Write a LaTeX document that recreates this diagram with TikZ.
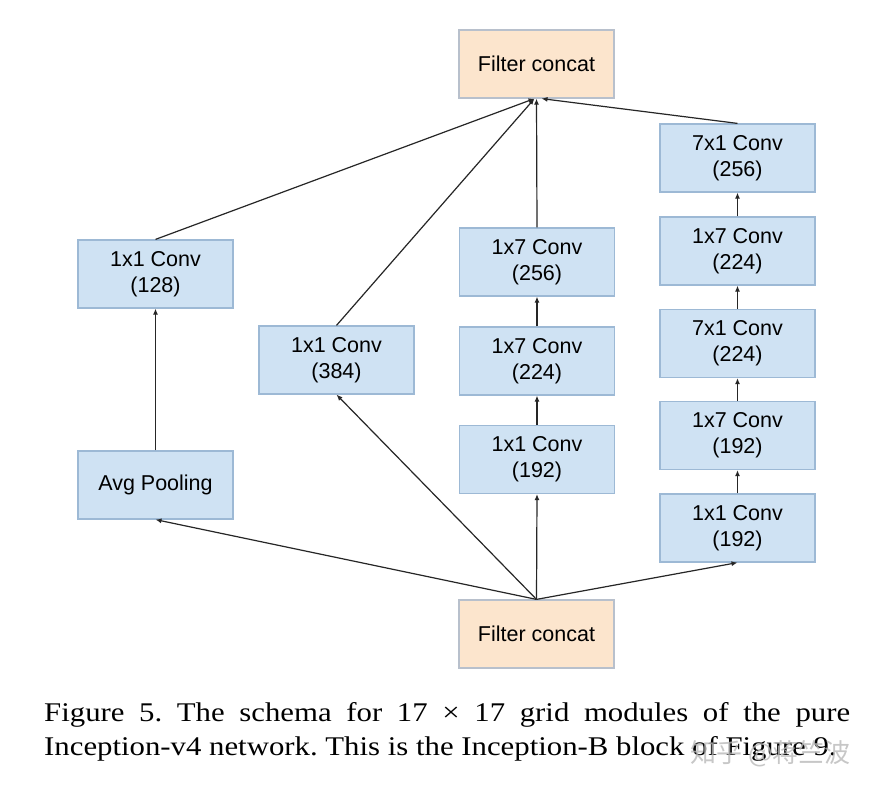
\documentclass[tikz,border=0pt]{standalone}
\usepackage{fontspec}
\setmainfont{Liberation Serif}
\setsansfont{Liberation Sans}
\newfontfamily\capfont[FakeStretch=1.14]{Liberation Serif}
\newfontfamily\cjkfont{Noto Sans CJK SC}
\usetikzlibrary{arrows.meta}
\definecolor{convfill}{HTML}{CFE2F3}
\definecolor{convline}{HTML}{9DB9D5}
\definecolor{catfill}{HTML}{FCE5CD}
\definecolor{catline}{HTML}{B8C0CC}
\tikzset{
  box/.style={draw=convline, line width=1.2pt, fill=convfill, minimum width=155pt, minimum height=68pt,
    inner sep=0pt, align=center, font=\sffamily\fontsize{21.5}{26}\selectfont},
  catbox/.style={box, draw=catline, fill=catfill},
  conn/.style={line width=1.2pt, draw=black!85, -{Latex[length=6pt,width=5pt]}},
  captext/.style={inner sep=0pt, anchor=base west, font=\capfont\frenchspacing\fontsize{27}{34}\selectfont}
}
\begin{document}
\begin{tikzpicture}[x=1pt,y=-1pt]
\useasboundingbox[fill=white] (0,0) rectangle (878,789);
% nodes
\node[catbox] (top) at (536.5,64) {Filter concat};
\node[catbox] (bot) at (536.5,634) {Filter concat};
\node[box] (c128) at (155.5,274) {1x1 Conv\\(128)};
\node[box] (avg) at (155.5,485) {Avg Pooling};
\node[box] (c384) at (336.5,360) {1x1 Conv\\(384)};
\node[box] (b3c) at (537,262) {1x7 Conv\\(256)};
\node[box] (b3b) at (537,361) {1x7 Conv\\(224)};
\node[box] (b3a) at (537,459.5) {1x1 Conv\\(192)};
\node[box] (b4e) at (737.5,158) {7x1 Conv\\(256)};
\node[box] (b4d) at (737.5,251) {1x7 Conv\\(224)};
\node[box] (b4c) at (737.5,343.5) {7x1 Conv\\(224)};
\node[box] (b4b) at (737.5,435.5) {1x7 Conv\\(192)};
\node[box] (b4a) at (737.5,528) {1x1 Conv\\(192)};
% connectors from bottom concat
\draw[conn] (bot.north) -- (avg.south);
\draw[conn] (bot.north) -- (c384.south);
\draw[conn] (bot.north) -- (b3a.south);
\draw[conn] (bot.north) -- (b4a.south);
% chains
\draw[conn] (avg.north) -- (c128.south);
\draw[conn] (b3a.north) -- (b3b.south);
\draw[conn] (b3b.north) -- (b3c.south);
\draw[conn] (b4a.north) -- (b4b.south);
\draw[conn] (b4b.north) -- (b4c.south);
\draw[conn] (b4c.north) -- (b4d.south);
\draw[conn] (b4d.north) -- (b4e.south);
% into top concat
\draw[conn] (c128.north) -- ([xshift=-2pt]top.south);
\draw[conn] (c384.north) -- ([xshift=-2pt]top.south);
\draw[conn] (b3c.north) -- (top.south);
\draw[conn] (b4e.north) -- ([xshift=5pt]top.south);
% caption
\node[captext] (cap1) at (44,721) {\makebox[806pt][s]{Figure 5. The schema for 17 × 17 grid modules of the pure}};
\node[captext] (cap2) at (44,755) {Inception-v4 network. This is the Inception-B block of Figure 9.};
\node[inner sep=0pt, anchor=base west, text=gray!55, opacity=0.8, font=\cjkfont\fontsize{26}{30}\selectfont] (wm) at (690,762) {知乎 @蒋竺波};
\end{tikzpicture}
\end{document}
